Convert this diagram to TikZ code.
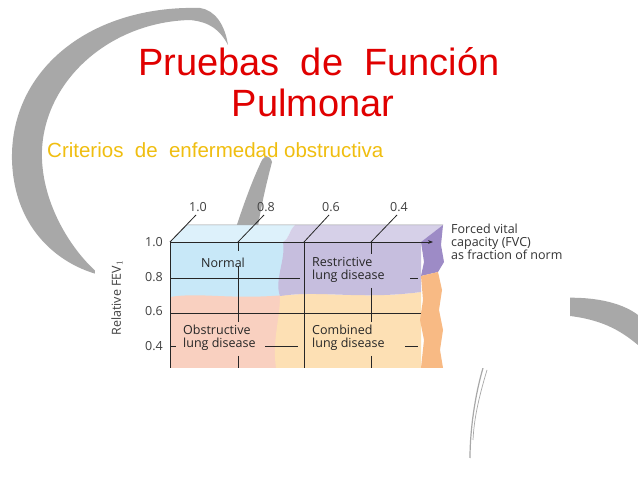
\documentclass[tikz,border=0pt]{standalone}
\usepackage{fontspec}
\setmainfont{Liberation Sans}
\newfontfamily\diag{Open Sans}
\usetikzlibrary{arrows.meta}
\definecolor{swoosh}{HTML}{A8A8A8}
\definecolor{ttl}{HTML}{E00000}
\definecolor{sub}{HTML}{F0BE10}
\definecolor{cblue}{HTML}{C8E8F8}
\definecolor{cbluet}{HTML}{DDF1FB}
\definecolor{cpur}{HTML}{C6BEDE}
\definecolor{cpurt}{HTML}{D6D0E8}
\definecolor{cpurs}{HTML}{9D8BC6}
\definecolor{cpink}{HTML}{F9D0C0}
\definecolor{corg}{HTML}{FDE0B4}
\definecolor{corgs}{HTML}{F8BA84}
\tikzset{grid/.style={line width=0.8pt,black!85},
 dl/.style={font=\diag\fontsize{12.5}{13}\selectfont,inner sep=0pt,text=black!85},
 ax/.style={font=\diag\fontsize{12.5}{13}\selectfont,inner sep=0pt,text=black!75}}
\begin{document}
\begin{tikzpicture}[x=1pt,y=-1pt]
\useasboundingbox (0,0) rectangle (638,478);
\fill[white] (0,0) rectangle (638,478);
% swooshes
\fill[swoosh] (200,8) .. controls (90,5) and (10,70) .. (12,160) .. controls (14,230) and (60,265) .. (100,275)
  .. controls (70,250) and (40,200) .. (42,150) .. controls (45,80) and (110,22) .. (190,20)
  .. controls (210,22) and (220,30) .. (228,45) .. controls (225,25) and (215,10) .. (200,8) -- cycle;
\fill[swoosh] (262,160) .. controls (250,185) and (240,215) .. (232,240) -- (256,240) .. controls (260,210) and (266,185) .. (272,162) .. controls (270,155) and (265,155) .. (262,160) -- cycle;
\fill[swoosh] (560,298) .. controls (600,296) and (625,305) .. (638,315) -- (638,345) .. controls (620,330) and (600,318) .. (560,315) -- cycle;
\draw[swoosh,line width=1.2pt] (483,368) .. controls (475,395) and (470,430) .. (470,458);
\draw[swoosh,line width=0.7pt] (487,370) .. controls (478,400) and (474,420) .. (473,440);
\fill[white] (95,236) rectangle (570,368);
% titles
\node[text=ttl,font=\fontsize{38}{44}\selectfont] (t1) at (319,62) {Pruebas\ \ de\ \ Función};
\node[text=ttl,font=\fontsize{38}{44}\selectfont] (t2) at (313,103) {Pulmonar};
\node[text=sub,font=\fontsize{20.5}{24}\selectfont,anchor=west,inner sep=0pt] (st) at (47,150) {Criterios\ \ de\ \ enfermedad obstructiva};
% diagram fills
\fill[cblue] (170,242) rectangle (285,297);
\fill[cpink] (170,297) .. controls (200,292) and (230,300) .. (285,295) -- (285,368) -- (170,368) -- cycle;
\fill[corg] (280,296) .. controls (320,290) and (360,300) .. (421,292) -- (421,368) -- (276,368) .. controls (272,340) and (280,320) .. (280,296) -- cycle;
\fill[cpur] (283,242) -- (421,242) -- (421,292) .. controls (360,300) and (320,290) .. (280,296) .. controls (274,280) and (286,260) .. (283,242) -- cycle;
\fill[cbluet] (170,242) -- (187,225) -- (295,225) .. controls (288,232) and (290,238) .. (283,242) -- cycle;
\fill[cpurt] (295,225) -- (443,225) -- (421,242) -- (283,242) .. controls (290,238) and (288,232) .. (295,225) -- cycle;
\fill[cpurs] (421,242) -- (443,225) -- (441,245) -- (444,262) -- (438,272) -- (421,276) -- (424,262) -- cycle;
\fill[corgs] (421,276) -- (438,272) -- (442,290) -- (439,310) -- (443,330) -- (440,350) -- (443,368) -- (421,368) -- (424,340) -- (420,320) -- (423,300) -- cycle;
\draw[black!40,line width=0.5pt] (170,242) -- (187,225) -- (443,225);
% rows
\draw[grid,-{Stealth[length=5pt]}] (170,242) -- (433,242);
\draw[grid] (170,242) -- (170,368);
\draw[grid] (170,278) -- (300,278);
\draw[grid] (410,278) -- (418,278);
\draw[grid] (170,313) -- (421,313);
\draw[grid] (170,346) -- (176,346);
\draw[grid] (265,346) -- (298,346);
\draw[grid] (405,346) -- (418,346);
% columns
\draw[grid] (238,242) -- (238,251);
\draw[grid] (238,266) -- (238,322);
\draw[grid] (238,356) -- (238,368);
\draw[grid] (304,242) -- (304,368);
\draw[grid] (371,242) -- (371,254);
\draw[grid] (371,288) -- (371,322);
\draw[grid] (371,356) -- (371,368);
% diagonals and top labels
\node[ax] (c10) at (198,207) {1.0};
\node[ax] (c08) at (266,207) {0.8};
\node[ax] (c06) at (331,207) {0.6};
\node[ax] (c04) at (399,207) {0.4};
\draw[grid] (196,215) -- (170,242);
\draw[grid] (264,215) -- (238,242);
\draw[grid] (329,215) -- (304,242);
\draw[grid] (397,215) -- (371,242);
% left labels
\node[ax] (r10) at (154,242) {1.0};
\node[ax] (r08) at (154,277) {0.8};
\node[ax] (r06) at (154,311) {0.6};
\node[ax] (r04) at (154,346) {0.4};
\node[ax,rotate=90] (yl) at (117,298) {Relative FEV$_1$};
% region labels
\node[dl] (n) at (223,263) {Normal};
\node[dl,align=left,anchor=west] (r) at (312,270) {Restrictive\\lung disease};
\node[dl,align=left,anchor=west] (o) at (183,338) {Obstructive\\lung disease};
\node[dl,align=left,anchor=west] (c) at (312,338) {Combined\\lung disease};
\node[dl,align=left,anchor=north west,text=black!80] (f) at (451,224) {Forced vital\\capacity (FVC)\\as fraction of norm};
\end{tikzpicture}
\end{document}
